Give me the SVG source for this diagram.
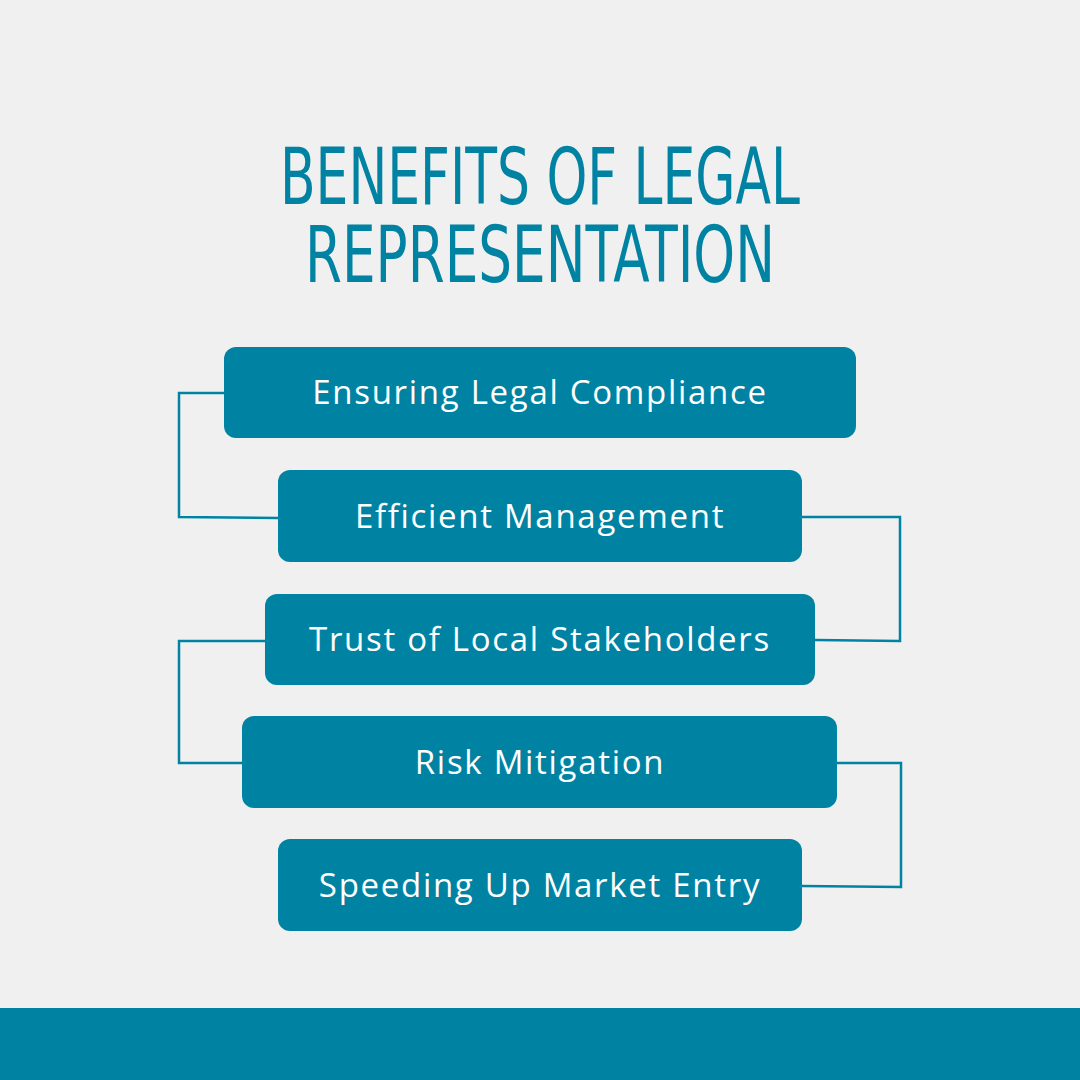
<svg xmlns="http://www.w3.org/2000/svg" width="1080" height="1080" viewBox="0 0 1080 1080">
<style>
.box{fill:#0083A3}
.lbl{font-family:"Open Sans","Noto Sans",sans-serif;font-size:33px;fill:#fff;text-anchor:middle;letter-spacing:1.7px}
.ttl{font-family:"DejaVu Sans Condensed","Liberation Sans",sans-serif;font-size:78px;fill:#0083A3;text-anchor:middle}
.con{fill:none;stroke:#0083A3;stroke-width:2.5}
</style>
<rect width="1080" height="1080" fill="#F0F0F0"/>
<rect x="0" y="1008" width="1080" height="72" fill="#0083A3"/>
<text class="ttl" x="540" y="204" textLength="520" lengthAdjust="spacingAndGlyphs">BENEFITS OF LEGAL</text>
<text class="ttl" x="540" y="282" textLength="470" lengthAdjust="spacingAndGlyphs">REPRESENTATION</text>
<g id="connectors">
<polyline class="con" points="224,393 179,393 179,517 278,518"/>
<polyline class="con" points="802,517 900,517 900,641 815,640"/>
<polyline class="con" points="265,641 179,641 179,763 242,763"/>
<polyline class="con" points="837,763 901,763 901,887 802,886"/>
</g>
<g id="n1"><rect class="box" x="224" y="347" width="632" height="91" rx="12"/><text class="lbl" x="540" y="404">Ensuring Legal Compliance</text></g>
<g id="n2"><rect class="box" x="278" y="470" width="524" height="92" rx="12"/><text class="lbl" x="540" y="528">Efficient Management</text></g>
<g id="n3"><rect class="box" x="265" y="594" width="550" height="91" rx="12"/><text class="lbl" x="540" y="651">Trust of Local Stakeholders</text></g>
<g id="n4"><rect class="box" x="242" y="716" width="595" height="92" rx="12"/><text class="lbl" x="540" y="774">Risk Mitigation</text></g>
<g id="n5"><rect class="box" x="278" y="839" width="524" height="92" rx="12"/><text class="lbl" x="540" y="897">Speeding Up Market Entry</text></g>
</svg>
